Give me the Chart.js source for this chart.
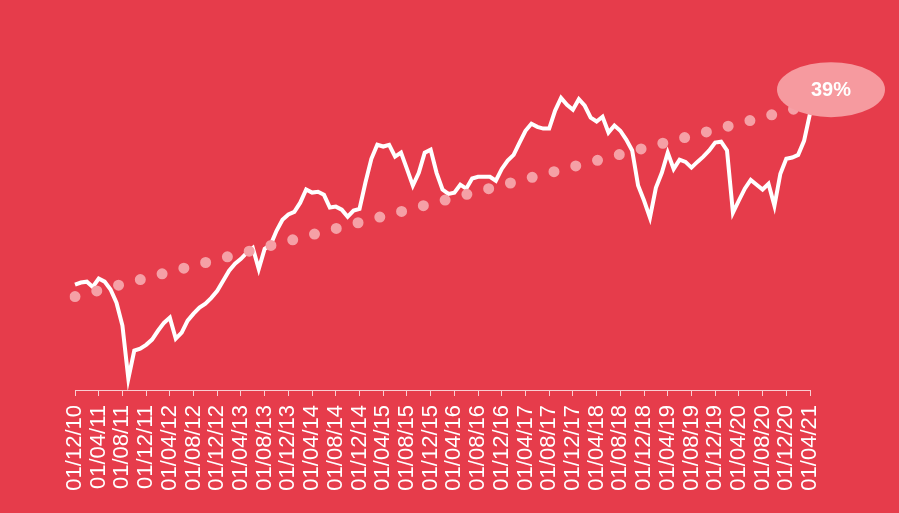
<!DOCTYPE html>
<html>
<head>
<meta charset="utf-8">
<script src="https://cdn.jsdelivr.net/npm/chart.js@4.4.1/dist/chart.umd.min.js"></script>
<style>
  html, body { margin: 0; padding: 0; background: #E63C4B; }
  #wrap { width: 899px; height: 513px; position: relative; }
</style>
</head>
<body>
<div id="wrap"><canvas id="grafico"></canvas></div>
<script>
// meses: 01/12/10 ... 01/04/21
const primerMes = { mes: 12, anio: 2010 };
const numMeses = 125;
const meses = [];
for (let i = 0; i < numMeses; i++) {
    let m = (primerMes.mes - 1 + i) % 12 + 1;
    let a = primerMes.anio + Math.floor((primerMes.mes - 1 + i) / 12);
    meses.push('01/' + String(m).padStart(2, '0') + '/' + String(a % 100).padStart(2, '0'));
}

// indice (base 100)
const valores = [
    100.0, 100.5, 100.7, 99.5, 101.4, 100.7, 98.9, 95.9, 90.7, 78.6,
    85.0, 85.4, 86.3, 87.5, 89.5, 91.3, 92.5, 87.7, 89.1, 91.8,
    93.4, 94.8, 95.7, 97.0, 98.6, 100.9, 103.2, 104.8, 105.9, 107.3,
    108.4, 103.6, 108.2, 109.1, 112.3, 114.8, 116.0, 116.6, 118.7, 121.7,
    121.0, 121.2, 120.5, 117.6, 117.8, 117.1, 115.5, 116.9, 117.3, 123.3,
    128.7, 131.9, 131.5, 131.9, 129.2, 130.1, 126.4, 122.6, 125.5, 130.1,
    130.8, 125.5, 121.7, 120.7, 121.0, 122.8, 121.9, 124.2, 124.6, 124.6,
    124.6, 123.7, 126.4, 128.3, 129.6, 132.4, 135.1, 136.7, 136.0, 135.6,
    135.6, 139.7, 142.6, 141.0, 139.9, 142.3, 140.8, 138.1, 137.2, 138.3,
    134.7, 136.3, 135.1, 133.1, 130.6, 122.6, 119.2, 115.3, 122.1, 125.5,
    130.1, 126.4, 128.5, 128.0, 126.7, 128.0, 129.2, 130.6, 132.4, 132.6,
    130.6, 116.4, 119.2, 121.9, 123.9, 122.8, 121.7, 123.0, 118.0, 125.3,
    128.7, 129.0, 129.6, 132.8, 139.0
];

// tendencia: solo extremos
const tendenciaInicio = 97.3;
const tendenciaFin = 141.0;
const tendencia = meses.map((_, i) => i === 0 ? tendenciaInicio : (i === numMeses - 1 ? tendenciaFin : null));

const etiquetaFinal = '39%';
const fuente = 'Arial, "Liberation Sans", sans-serif';

// burbuja con el porcentaje final
const burbuja = {
    id: 'burbuja',
    afterDatasetsDraw(chart) {
        const meta = chart.getDatasetMeta(1);
        const p = meta.data[meta.data.length - 1];
        const cx = p.x + 21, cy = p.y - 24;
        const ctx = chart.ctx;
        ctx.save();
        ctx.fillStyle = '#F69A9F';
        ctx.beginPath();
        ctx.ellipse(cx, cy, 54, 27.5, 0, 0, Math.PI * 2);
        ctx.fill();
        ctx.fillStyle = '#ffffff';
        ctx.font = 'bold 20px ' + fuente;
        ctx.textAlign = 'center';
        ctx.textBaseline = 'middle';
        ctx.fillText(etiquetaFinal, cx, cy + 1);
        ctx.restore();
    }
};

const ctx = document.getElementById('grafico').getContext('2d');
window.myChart = new Chart(ctx, {
    type: 'line',
    data: {
        labels: meses,
        datasets: [
            {
                label: 'Tendencia',
                data: tendencia,
                spanGaps: true,
                borderColor: '#F5A0A6',
                borderWidth: 11,
                borderDash: [0, 22.5],
                borderCapStyle: 'round',
                pointRadius: 0,
                fill: false
            },
            {
                label: 'Indice',
                data: valores,
                borderColor: '#ffffff',
                borderWidth: 4,
                pointRadius: 0,
                tension: 0,
                fill: false
            }
        ]
    },
    options: {
        responsive: true,
        maintainAspectRatio: false,
        animation: false,
        layout: { padding: { left: 75, right: 89, top: 61, bottom: 0 } },
        plugins: {
            legend: { display: false },
            tooltip: { enabled: false }
        },
        scales: {
            x: {
                afterFit(scale) { scale.height = 123; },
                border: { display: true, color: 'rgba(255,255,255,0.75)', width: 1 },
                grid: {
                    drawOnChartArea: false,
                    drawTicks: true,
                    tickLength: 6,
                    color: c => (c.index % 4 === 0 ? 'rgba(255,255,255,0.75)' : 'rgba(0,0,0,0)')
                },
                ticks: {
                    autoSkip: false,
                    minRotation: 90,
                    maxRotation: 90,
                    padding: 9,
                    color: '#ffffff',
                    font: { family: fuente, size: 22 },
                    callback: function (v, i) { return i % 4 === 0 ? this.getLabelForValue(v) : ''; }
                }
            },
            y: {
                display: false,
                min: 76,
                max: 151
            }
        }
    },
    plugins: [burbuja]
});
</script>
</body>
</html>
